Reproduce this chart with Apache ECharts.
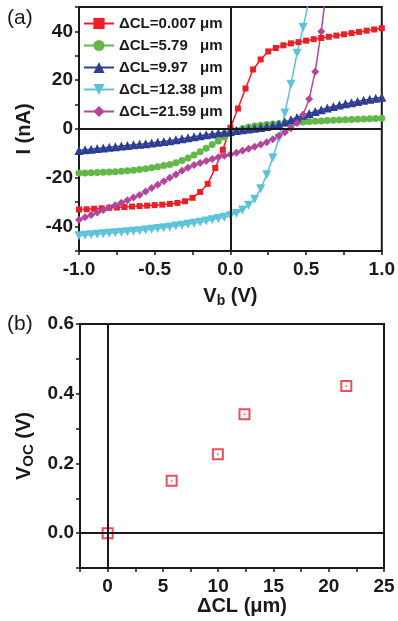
<!DOCTYPE html>
<html>
<head>
<meta charset="utf-8">
<script src="https://cdn.jsdelivr.net/npm/echarts@6/dist/echarts.min.js"></script>
<style>
  html, body { margin: 0; padding: 0; background: #fff; }
  #chart { width: 398px; height: 621px; }
</style>
</head>
<body>
<div id="chart"></div>
<script>
// panel (a): I-V curves
const vFine = [-1.00, -0.96, -0.92, -0.88, -0.84, -0.80, -0.76, -0.72, -0.68, -0.64, -0.60, -0.56, -0.52, -0.48, -0.44, -0.40, -0.36, -0.32, -0.28, -0.24, -0.20, -0.16, -0.12, -0.08, -0.04, 0.00, 0.04, 0.08, 0.12, 0.16, 0.20, 0.24, 0.28, 0.32, 0.36, 0.40, 0.44, 0.48, 0.52, 0.56, 0.60, 0.64, 0.68, 0.72, 0.76, 0.80, 0.84, 0.88, 0.92, 0.96, 1.00]
const vRed = [-1.00, -0.95, -0.90, -0.85, -0.80, -0.75, -0.70, -0.65, -0.60, -0.55, -0.50, -0.45, -0.40, -0.35, -0.30, -0.25, -0.20, -0.15, -0.10, -0.05, 0.00, 0.05, 0.10, 0.15, 0.20, 0.25, 0.30, 0.35, 0.40, 0.45, 0.50, 0.55, 0.60, 0.65, 0.70, 0.75, 0.80, 0.85, 0.90, 0.95, 1.00]

const iRed = [-33.0, -32.9, -32.7, -32.5, -32.3, -32.2, -32.0, -31.8, -31.6, -31.4, -31.2, -31.0, -30.7, -30.3, -29.6, -28.2, -25.8, -22.5, -16.0, -8.5, 0.5, 8.4, 16.6, 24.4, 28.5, 31.8, 33.2, 34.3, 35.1, 35.6, 36.2, 36.8, 37.3, 37.8, 38.3, 38.8, 39.3, 39.8, 40.3, 40.8, 41.3]
const iGreen = [-18.0, -18.0, -17.9, -17.8, -17.7, -17.6, -17.5, -17.3, -17.1, -16.9, -16.6, -16.3, -15.9, -15.5, -15.0, -14.5, -13.8, -12.9, -11.9, -10.7, -9.3, -7.9, -6.4, -4.9, -3.3, -1.8, -0.6, 0.2, 0.8, 1.2, 1.5, 1.8, 2.0, 2.2, 2.4, 2.6, 2.8, 2.9, 3.1, 3.2, 3.3, 3.5, 3.6, 3.7, 3.8, 3.9, 4.0, 4.1, 4.2, 4.3, 4.4]
const iBlue = [-8.8, -8.5, -8.3, -8.0, -7.8, -7.5, -7.3, -7.0, -6.8, -6.5, -6.3, -6.0, -5.7, -5.4, -5.1, -4.8, -4.4, -4.0, -3.6, -3.2, -2.8, -2.4, -2.0, -1.6, -1.3, -1.0, -0.6, -0.3, 0.0, 0.3, 0.6, 1.0, 1.5, 2.1, 2.9, 3.8, 4.7, 5.6, 6.4, 7.2, 7.9, 8.6, 9.2, 9.8, 10.3, 10.8, 11.3, 11.8, 12.2, 12.6, 13.0]
const iCyan = [-43.7, -43.5, -43.3, -43.1, -42.9, -42.7, -42.5, -42.3, -42.1, -41.9, -41.7, -41.4, -41.1, -40.8, -40.5, -40.2, -39.8, -39.4, -39.0, -38.6, -38.2, -37.7, -37.2, -36.7, -36.2, -35.6, -34.6, -33.2, -31.3, -28.8, -24.5, -18.7, -11.8, -3.8, 6.6, 18.3, 31.0, 41.6, 53.0, 65.0]
const iMagenta = [-37.2, -36.2, -35.2, -34.2, -33.2, -32.2, -31.2, -30.2, -29.2, -28.1, -27.0, -25.6, -24.2, -22.8, -21.4, -20.0, -18.6, -17.1, -15.9, -14.8, -13.9, -13.1, -12.3, -11.6, -11.0, -10.4, -9.7, -8.9, -8.1, -7.3, -6.4, -5.4, -4.2, -2.8, -1.3, 0.3, 2.5, 5.8, 12.3, 23.5, 40.0, 60.0]

const curveNames = ['ΔCL=0.007 μm', 'ΔCL=5.79 μm', 'ΔCL=9.97 μm', 'ΔCL=12.38 μm', 'ΔCL=21.59 μm']

// panel (b): Voc vs ΔCL
const dCL = [0, 5.79, 9.97, 12.38, 21.59]
const voc = [0, 0.15, 0.226, 0.341, 0.422]

const font = 'Liberation Sans, Arial, Helvetica, sans-serif'
const ink = '#1a1a1a'

const pair = (xs, ys) => ys.map((y, i) => [xs[i], y])

const axisBase = {
  type: 'value',
  axisLine: { show: true, onZero: false, lineStyle: { color: ink, width: 2 } },
  axisTick: { show: true, length: 4, lineStyle: { color: ink, width: 1.5 } },
  splitLine: { show: false },
  nameLocation: 'middle',
}
const tickFont = { color: ink, fontSize: 19, fontWeight: 'bold', fontFamily: font }
const nameFont = { color: ink, fontSize: 20, fontWeight: 'bold', fontFamily: font }

const zeroLine = (gridIdx) => ({
  type: 'scatter',
  xAxisIndex: gridIdx,
  yAxisIndex: gridIdx,
  data: [],
  z: 1,
  silent: true,
  markLine: {
    silent: true,
    symbol: 'none',
    label: { show: false },
    lineStyle: { color: ink, width: 2, type: 'solid' },
    animation: false,
    data: [{ xAxis: 0 }, { yAxis: 0 }],
  },
})

const curve = (name, xs, ys, color, symbol, size, rotate) => ({
  name,
  type: 'line',
  xAxisIndex: 0,
  yAxisIndex: 0,
  data: pair(xs, ys),
  symbol,
  symbolSize: size,
  symbolRotate: rotate || 0,
  showAllSymbol: true,
  lineStyle: { color, width: 1.5 },
  itemStyle: { color, borderWidth: 0 },
  z: 3,
})

const chart = echarts.init(document.getElementById('chart'))
chart.setOption({
  animation: false,
  backgroundColor: '#fff',
  textStyle: { fontFamily: font },
  title: [
    { text: '(a)', left: 2, top: 3, textStyle: { fontSize: 21, fontWeight: 'normal', color: ink, fontFamily: font } },
    { text: '(b)', left: 2, top: 309, textStyle: { fontSize: 21, fontWeight: 'normal', color: ink, fontFamily: font } },
  ],
  legend: {
    data: curveNames,
    orient: 'vertical',
    left: 83,
    top: 16,
    padding: 0,
    itemGap: 7,
    itemWidth: 30,
    itemHeight: 14,
    formatter: name => {
      const parts = name.split(' ')
      return '{a|' + parts[0] + '}{b|' + parts[1] + '}'
    },
    textStyle: {
      color: ink, fontSize: 15, fontWeight: 'bold', fontFamily: font,
      rich: {
        a: { width: 81, fontSize: 15, fontWeight: 'bold', color: ink, fontFamily: font },
        b: { fontSize: 15, fontWeight: 'bold', color: ink, fontFamily: font },
      },
    },
  },
  grid: [
    { left: 79, top: 7, width: 303, height: 244, show: true, borderColor: ink, borderWidth: 2, backgroundColor: 'transparent' },
    { left: 80, top: 324, width: 304, height: 244, show: true, borderColor: ink, borderWidth: 2, backgroundColor: 'transparent' },
  ],
  xAxis: [
    {
      ...axisBase,
      gridIndex: 0,
      min: -1,
      max: 1,
      interval: 0.25,
      axisLabel: {
        ...tickFont,
        margin: 9,
        formatter: v => (Math.round(v * 4) % 2 === 0 ? v.toFixed(1) : ''),
      },
      name: 'V{s|b} (V)',
      nameGap: 33,
      nameTextStyle: {
        ...nameFont,
        rich: { s: { fontSize: 14, fontWeight: 'bold', color: ink, fontFamily: font, verticalAlign: 'bottom', padding: [10, 0, 0, 0] } },
      },
    },
    {
      ...axisBase,
      gridIndex: 1,
      min: -2.5,
      max: 25,
      interval: 2.5,
      axisLabel: {
        ...tickFont,
        margin: 9,
        formatter: v => (Math.round(v * 2) % 10 === 0 ? String(Math.round(v)) : ''),
      },
      name: 'ΔCL (μm)',
      nameGap: 27,
      nameTextStyle: { ...nameFont, padding: [0, 0, 0, 20] },
    },
  ],
  yAxis: [
    {
      ...axisBase,
      gridIndex: 0,
      min: -50,
      max: 50,
      interval: 10,
      axisLabel: {
        ...tickFont,
        margin: 6,
        formatter: v => (Math.round(v) % 20 === 0 && Math.abs(v) < 50 ? String(Math.round(v)) : ''),
      },
      name: 'I (nA)',
      nameGap: 40,
      nameTextStyle: nameFont,
    },
    {
      ...axisBase,
      gridIndex: 1,
      min: -0.1,
      max: 0.6,
      interval: 0.1,
      axisLabel: {
        ...tickFont,
        margin: 6,
        formatter: v => (Math.round(v * 10) % 2 === 0 ? v.toFixed(1) : ''),
      },
      name: 'V{s|OC} (V)',
      nameGap: 43,
      nameTextStyle: {
        ...nameFont,
        rich: { s: { fontSize: 15, fontWeight: 'bold', color: ink, fontFamily: font, verticalAlign: 'bottom', padding: [10, 0, 0, 0] } },
      },
    },
  ],
  series: [
    zeroLine(0),
    zeroLine(1),
    curve(curveNames[0], vRed, iRed, '#ec1f26', 'rect', 6),
    curve(curveNames[1], vFine, iGreen, '#63b947', 'circle', 7),
    curve(curveNames[2], vFine, iBlue, '#2e3d94', 'triangle', 9),
    curve(curveNames[3], vFine, iCyan, '#5cc3d8', 'triangle', 9, 180),
    curve(curveNames[4], vFine, iMagenta, '#b4449c', 'diamond', 8),
    {
      type: 'scatter',
      xAxisIndex: 1,
      yAxisIndex: 1,
      data: pair(dCL, voc),
      symbol: 'rect',
      symbolSize: 10,
      itemStyle: { color: '#fff', borderColor: '#e0262f', borderWidth: 2 },
      z: 3,
    },
    {
      type: 'scatter',
      xAxisIndex: 1,
      yAxisIndex: 1,
      data: pair(dCL, voc),
      symbol: 'rect',
      symbolSize: 1.5,
      itemStyle: { color: '#e0262f' },
      z: 4,
    },
  ],
})
</script>
</body>
</html>
